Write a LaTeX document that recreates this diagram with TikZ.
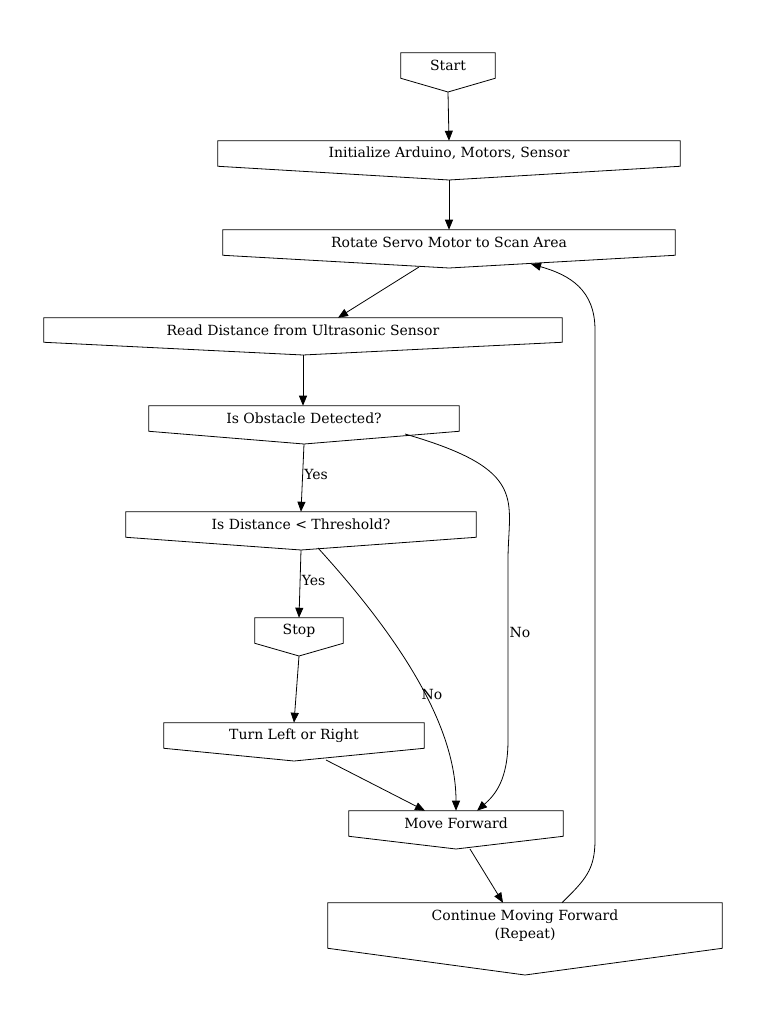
\documentclass[tikz,border=0pt]{standalone}
\usepackage{fontspec}
\setmainfont{DejaVu Serif}
\usetikzlibrary{arrows.meta,calc}

\tikzset{
  stepbox/.style={draw=none, inner sep=0pt, align=center, font=\fontsize{10.5}{13}\selectfont},
  flow/.style={-{Triangle[length=7.5pt,width=6pt]}, line width=0.6pt},
  lbl/.style={font=\fontsize{10.5}{12}\selectfont, anchor=west, inner sep=1pt},
}

% name, centre x, top y, half width, side height, tip y, text
\newcommand\flowstep[7]{%
  \node[stepbox, minimum width={2*#4*0.75pt}, minimum height={#5*0.75pt}] (#1) at (#2,{#3+#5/2}) {#7};
  \coordinate (#1-tip) at (#2,#6);
  \draw[line width=0.6pt] (#1.north west) -- (#1.north east) -- (#1.south east) -- (#1-tip) -- (#1.south west) -- cycle;
}

\begin{document}
\begin{tikzpicture}[x=0.75pt,y=-0.75pt]
\useasboundingbox (0,0) rectangle (768,1024);

% steps
\flowstep{start}{448}{53}{47}{25}{92}{Start}
\flowstep{init}{449}{141}{231}{25}{180}{Initialize Arduino, Motors, Sensor}
\flowstep{rotate}{449}{230}{226}{25}{268}{Rotate Servo Motor to Scan Area}
\flowstep{read}{303}{318}{259}{24}{355}{Read Distance from Ultrasonic Sensor}
\flowstep{obst}{304}{406}{155}{25}{444}{Is Obstacle Detected?}
\flowstep{dist}{301}{512}{175}{25}{550}{Is Distance < Threshold?}
\flowstep{stop}{299}{618}{44}{25}{656}{Stop}
\flowstep{turn}{294}{723}{130}{25}{761}{Turn Left or Right}
\flowstep{move}{456}{811}{107}{25}{849}{Move Forward}
\flowstep{cont}{525}{903}{197}{45}{975}{Continue Moving Forward\\(Repeat)}

% connectors
\draw[flow] (start-tip) -- (init.north);
\draw[flow] (init-tip) -- (rotate.north);
\draw[flow] ($(rotate-tip)+(-30,-1)$) -- ($(read.north)+(35,0)$);
\draw[flow] (read-tip) -- (read-tip |- obst.north);
\draw[flow] (obst-tip) -- node[lbl, pos=0.45] {Yes} (dist.north);
\draw[flow] ($(obst-tip)+(101,-10)$) .. controls (530,470) and (508,500) .. (508,560)
  -- node[lbl, pos=0.4] {No} (508,740) .. controls (508,780) and (495,795) .. ($(move.north)+(21,0)$);
\draw[flow] (dist-tip) -- node[lbl, pos=0.45] {Yes} (stop.north);
\draw[flow] ($(dist-tip)+(17,-2)$) .. controls (420,660) and (456,740) .. node[lbl, pos=0.5, xshift=-4] {No} (move.north);
\draw[flow] (stop-tip) -- (turn.north);
\draw[flow] ($(turn-tip)+(32,-1)$) -- ($(move.north)+(-31,0)$);
\draw[flow] ($(move-tip)+(14,0)$) -- ($(cont.north)+(-22,0)$);
\draw[flow] ($(cont.north)+(37,0)$) .. controls (585,880) and (595,870) .. (595,840)
  -- (595,330) .. controls (595,290) and (570,275) .. ($(rotate-tip)+(82,-4)$);
\end{tikzpicture}
\end{document}
